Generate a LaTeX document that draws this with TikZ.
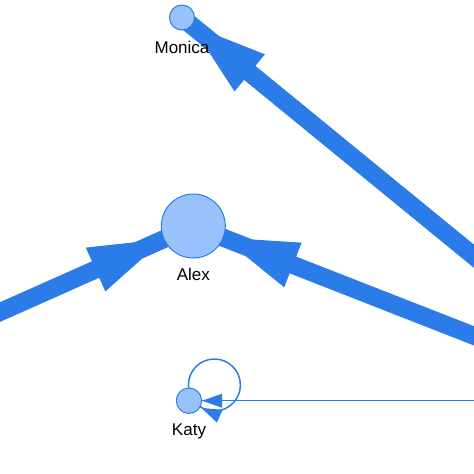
\documentclass[tikz,border=0pt]{standalone}
\usepackage{fontspec}
\setmainfont{Liberation Sans}
\usetikzlibrary{calc}
\definecolor{edgeblue}{HTML}{2B7CE9}
\definecolor{nodefill}{HTML}{97C2FC}
\tikzset{
  vnode/.style={circle, draw=edgeblue, fill=nodefill, line width=1pt, inner sep=0pt},
  vlabel/.style={anchor=base, inner sep=0pt, font=\fontsize{17}{20}\selectfont, text=black},
  thickedge/.style={draw=edgeblue, line width=18pt},
  thinedge/.style={draw=edgeblue, line width=1.5pt},
  headfill/.style={fill=edgeblue, draw=none}
}
\begin{document}
\begin{tikzpicture}[x=1pt,y=-1pt]
\useasboundingbox (0,0) rectangle (474,474);
\clip (0,0) rectangle (474,474);
% node centres
\coordinate (mc) at (182,17.5);
\coordinate (ac) at (193.3,226);
\coordinate (kc) at (189,400.7);
% off-picture sources
\coordinate (srcM) at (560,326.6);
\coordinate (srcAR) at (560,369.5);
\coordinate (srcAL) at (-80,347.7);
\coordinate (srcK) at (520,400.7);
% thick edges
\draw[thickedge] (srcM) -- (mc);
\draw[thickedge] (srcAR) -- (ac);
\draw[thickedge] (srcAL) -- (ac);
% arrowheads of thick edges
\foreach \c/\s/\r in {mc/srcM/12.5, ac/srcAR/32, ac/srcAL/32}{
  \coordinate (tip) at ($(\c)!\r pt!(\s)$);
  \coordinate (base) at ($(tip)!75pt!(\s)$);
  \fill[headfill] (tip) -- ($(base)!24pt!90:(tip)$) -- ($(base)!24pt!-90:(tip)$) -- cycle;
}
% Katy edges
\draw[thinedge] (srcK) -- (kc);
\draw[thinedge] (214.4,385) circle (26);
\coordinate (ktip) at ($(kc)!13pt!(srcK)$);
\coordinate (kbase) at ($(ktip)!20pt!(srcK)$);
\fill[headfill] (ktip) -- ($(kbase)!7pt!90:(ktip)$) -- ($(kbase)!7pt!-90:(ktip)$) -- cycle;
\coordinate (ltip) at (201.5,408);
\coordinate (lback) at (220.5,416.5);
\coordinate (lbase) at ($(ltip)!20pt!(lback)$);
\fill[headfill] (ltip) -- ($(lbase)!7pt!90:(ltip)$) -- ($(lbase)!7pt!-90:(ltip)$) -- cycle;
% nodes
\node[vnode, minimum size=25pt] (monica) at (mc) {};
\node[vnode, minimum size=64pt] (alex) at (ac) {};
\node[vnode, minimum size=25.4pt] (katy) at (kc) {};
\node[vlabel] (lm) at (182,53) {Monica};
\node[vlabel] (la) at (193.3,280) {Alex};
\node[vlabel] (lk) at (189,435) {Katy};
\end{tikzpicture}
\end{document}
